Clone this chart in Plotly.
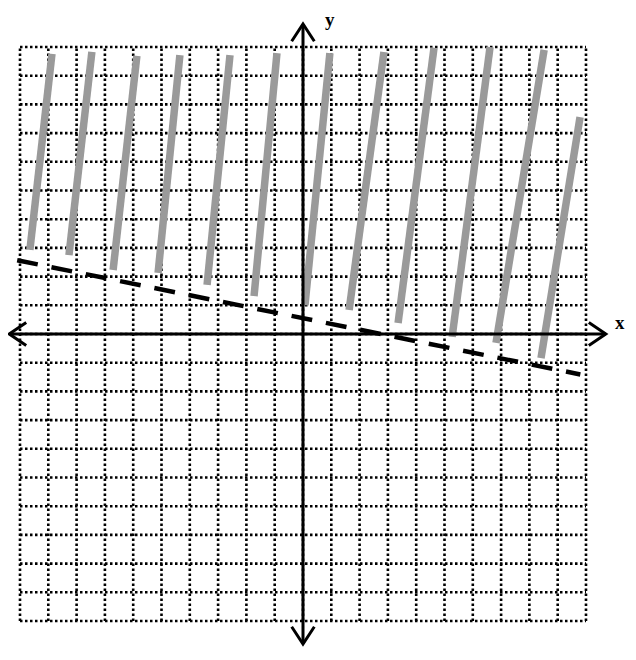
import plotly.graph_objects as go

# grid extent (units)
grid_ticks = list(range(-10, 11))

# boundary line y = -x/5 + 0.55 (dashed)
boundary_x = [-10.1, 9.8]
boundary_y = [2.57, -1.41]

# gray shading strokes: (x_top, y_top, x_bottom, y_bottom)
shade_top_x = [-8.87, -7.46, -5.87, -4.35, -2.58, -0.92, 0.95, 2.86, 4.63, 6.61, 8.52, 9.79]
shade_top_y = [9.76, 9.83, 9.69, 9.72, 9.72, 9.79, 9.79, 9.83, 9.97, 10.0, 9.9, 7.56]
shade_bot_x = [-9.65, -8.27, -6.71, -5.12, -3.39, -1.73, 0.07, 1.63, 3.36, 5.27, 6.82, 8.41]
shade_bot_y = [2.93, 2.75, 2.23, 2.13, 1.71, 1.32, 1.01, 0.84, 0.38, -0.10, -0.31, -0.84]

# axis arrows reach a bit past the grid
axis_x_end = [-10.38, 10.7]
axis_y_end = [-10.8, 10.8]

fig = go.Figure()

# dotted grid
gx, gy = [], []
for t in grid_ticks:
    gx += [t, t, None]
    gy += [grid_ticks[0], grid_ticks[-1], None]
    gx += [grid_ticks[0], grid_ticks[-1], None]
    gy += [t, t, None]
fig.add_trace(go.Scatter(x=gx, y=gy, mode='lines',
                         line=dict(color='black', width=2.6, dash='2.5px,2.5px'),
                         hoverinfo='skip', showlegend=False))

# shading
sx, sy = [], []
for i in range(len(shade_top_x)):
    sx += [shade_top_x[i], shade_bot_x[i], None]
    sy += [shade_top_y[i], shade_bot_y[i], None]
fig.add_trace(go.Scatter(x=sx, y=sy, mode='lines',
                         line=dict(color='#9a9a9a', width=7.5),
                         hoverinfo='skip', showlegend=False))

# axes
fig.add_trace(go.Scatter(x=[axis_x_end[0], axis_x_end[1], None, 0, 0],
                         y=[0, 0, None, axis_y_end[0], axis_y_end[1]],
                         mode='lines', line=dict(color='black', width=3),
                         hoverinfo='skip', showlegend=False))

# arrow chevrons
ax_len, ax_half = 0.6, 0.4
cx = [axis_x_end[1] - ax_len, axis_x_end[1], axis_x_end[1] - ax_len, None,
      axis_x_end[0] + ax_len, axis_x_end[0], axis_x_end[0] + ax_len, None,
      -ax_half, 0, ax_half, None,
      -ax_half, 0, ax_half]
cy = [ax_half, 0, -ax_half, None,
      ax_half, 0, -ax_half, None,
      axis_y_end[1] - ax_len, axis_y_end[1], axis_y_end[1] - ax_len, None,
      axis_y_end[0] + ax_len, axis_y_end[0], axis_y_end[0] + ax_len]
fig.add_trace(go.Scatter(x=cx, y=cy, mode='lines',
                         line=dict(color='black', width=3),
                         hoverinfo='skip', showlegend=False))

# boundary
fig.add_trace(go.Scatter(x=boundary_x, y=boundary_y, mode='lines',
                         line=dict(color='black', width=4.5, dash='21px,14px'),
                         hoverinfo='skip', showlegend=False))

fig.add_annotation(x=11.2, y=0.4, text='<b>x</b>', showarrow=False,
                   font=dict(family='Liberation Serif', size=19, color='black'))
fig.add_annotation(x=0.95, y=11.35, yanchor='top', borderpad=0, text='<b>y</b>',
                   showarrow=False,
                   font=dict(family='Liberation Serif', size=19, color='black'))

# the page body has an 8px margin, so the figure is 8px smaller
fig.update_layout(
    width=628, height=652,
    margin=dict(l=0, r=0, t=0, b=0),
    paper_bgcolor='white', plot_bgcolor='white',
    xaxis=dict(range=[-10.424, 11.767], visible=False, fixedrange=True),
    yaxis=dict(range=[-11.359, 11.359], visible=False, fixedrange=True),
)

fig.write_html("out.html")
